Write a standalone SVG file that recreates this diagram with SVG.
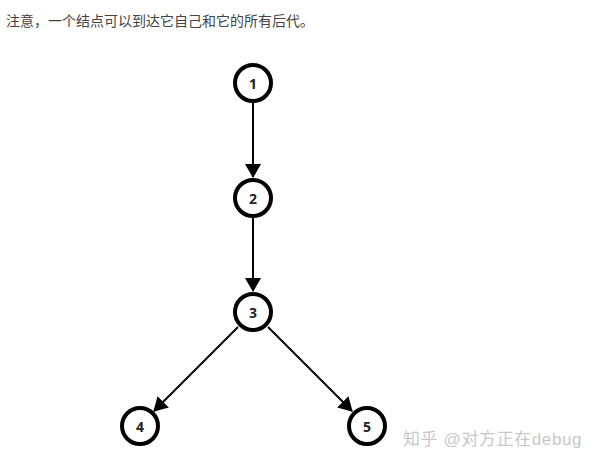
<svg xmlns="http://www.w3.org/2000/svg" width="600" height="466" viewBox="0 0 600 466">
<style>
.node circle{fill:#fff;stroke:#000;stroke-width:4}
.node text{font-family:"Open Sans","DejaVu Sans",sans-serif;font-weight:bold;font-size:14px;fill:#222;text-anchor:middle;dominant-baseline:central}
.edge{stroke:#000;stroke-width:2;fill:none;marker-end:url(#arr)}
.hdr{font-family:"Liberation Sans","Noto Sans CJK SC",sans-serif;font-size:14px;fill:#444}
.wm{font-family:"Liberation Sans","Noto Sans CJK SC",sans-serif;font-size:17px;letter-spacing:0.6px;fill:#c8c8c8}
</style>
<defs>
<marker id="arr" viewBox="0 0 14 16" refX="13" refY="8" markerWidth="14" markerHeight="16" markerUnits="userSpaceOnUse" orient="auto">
<path d="M0,0 L14,8 L0,16 Z" fill="#000"/>
</marker>
</defs>
<rect width="600" height="466" fill="#fff"/>
<text class="hdr" x="6" y="26">注意，一个结点可以到达它自己和它的所有后代。</text>
<g id="connectors">
<line class="edge" x1="253" y1="103" x2="253" y2="177"/>
<line class="edge" x1="253" y1="218" x2="253" y2="291"/>
<line class="edge" x1="238" y1="327" x2="154" y2="411"/>
<line class="edge" x1="268" y1="327" x2="352" y2="411"/>
</g>
<g id="node1" class="node"><circle cx="253" cy="83" r="18"/><text x="253" y="83">1</text></g>
<g id="node2" class="node"><circle cx="253" cy="198" r="18"/><text x="253" y="198">2</text></g>
<g id="node3" class="node"><circle cx="253" cy="312" r="18"/><text x="253" y="312">3</text></g>
<g id="node4" class="node"><circle cx="140" cy="426" r="18"/><text x="140" y="426">4</text></g>
<g id="node5" class="node"><circle cx="367" cy="426" r="18"/><text x="367" y="426">5</text></g>
<text class="wm" x="403" y="445">知乎 @对方正在debug</text>
</svg>
